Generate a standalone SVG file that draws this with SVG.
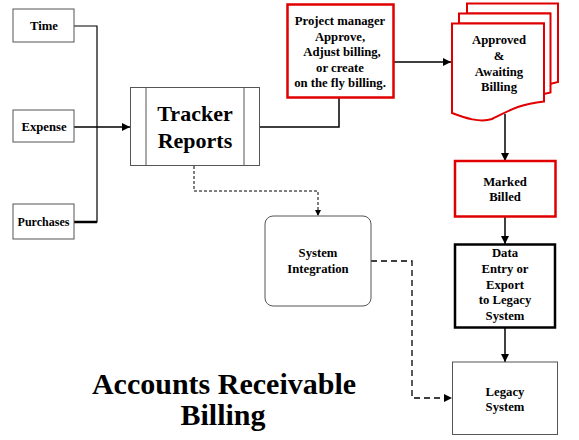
<svg xmlns="http://www.w3.org/2000/svg" width="579" height="440" viewBox="0 0 579 440">
<defs>
<style>
text{font-family:"Liberation Serif","Times New Roman",serif;font-weight:bold;fill:#000;text-anchor:middle}
.s{font-size:12.7px}
.grey{fill:#fff;stroke:#555;stroke-width:1}
.red{fill:#fff;stroke:#e00000;stroke-width:2.5}
.blk{fill:#fff;stroke:#000;stroke-width:2.5}
.ln{fill:none;stroke:#000;stroke-width:1.5}
.dash{fill:none;stroke:#000;stroke-width:1;stroke-dasharray:3,2}
.dash2{fill:none;stroke:#000;stroke-width:1.3;stroke-dasharray:6,4}
</style>
<marker id="ah" viewBox="0 0 10 10" refX="10" refY="5" markerWidth="8" markerHeight="8" markerUnits="userSpaceOnUse" orient="auto"><path d="M0,0L10,5L0,10z" fill="#000"/></marker>
<marker id="ahs" viewBox="0 0 10 10" refX="10" refY="5" markerWidth="6" markerHeight="6" markerUnits="userSpaceOnUse" orient="auto"><path d="M0,0L10,5L0,10z" fill="#000"/></marker>
</defs>
<rect width="579" height="440" fill="#fff"/>
<g id="connectors">
<path class="ln" d="M74,26H97V222H74" style="stroke-width:1.2"/>
<path class="ln" d="M74,222H97" style="stroke-width:2.5"/>
<path class="ln" d="M74,127H130" marker-end="url(#ah)"/>
<path class="ln" d="M259,127H339V98"/>
<path class="ln" d="M393,62H451" marker-end="url(#ah)"/>
<path class="ln" d="M505,114V161" marker-end="url(#ah)"/>
<path class="ln" d="M505,217V244" marker-end="url(#ah)"/>
<path class="ln" d="M505,328V362" marker-end="url(#ah)"/>
<path class="dash" d="M194,166V191H318V216" marker-end="url(#ahs)"/>
<path class="dash2" d="M371,261H412V398H452" marker-end="url(#ah)"/>
</g>
<g id="time"><rect class="grey" x="13" y="9" width="61" height="33"/><text class="s" x="44" y="30">Time</text></g>
<g id="expense"><rect class="grey" x="13" y="110" width="61" height="32"/><text class="s" x="44" y="131">Expense</text></g>
<g id="purchases"><rect class="grey" x="13" y="204" width="61" height="35"/><text class="s" x="43.5" y="226" style="font-size:12px">Purchases</text></g>
<g id="tracker"><rect class="grey" x="130.5" y="87.5" width="129" height="78"/><path d="M146,87.5V165.5M244,87.5V165.5" stroke="#555" stroke-width="1"/><text x="195" y="121" style="font-size:22px">Tracker</text><text x="195" y="148" style="font-size:22px">Reports</text></g>
<g id="pm"><rect class="red" x="287.5" y="4.5" width="106" height="93"/><text class="s" x="340" y="25">Project manager</text><text class="s" x="340" y="40.5">Approve,</text><text class="s" x="342" y="56">Adjust billing,</text><text class="s" x="340" y="71.5">or create</text><text class="s" x="340" y="87">on the fly billing.</text></g>
<g id="approved">
<path class="red" d="M467,3.5H558V82L550,84V13.5H467Z" style="stroke-width:2"/>
<path class="red" d="M459,13.5H550.5V92.5L544,94V23.5H459Z" style="stroke-width:2"/>
<path class="red" d="M452,23.5H544V101.5C520,104 510,110 492,119C480,123 465,118 452,113Z" style="stroke-width:2"/>
<text class="s" x="499" y="44">Approved</text><text class="s" x="499" y="60">&amp;</text><text class="s" x="499" y="75.5">Awaiting</text><text class="s" x="499" y="91">Billing</text>
</g>
<g id="marked"><rect class="red" x="455" y="161" width="100.5" height="55.5"/><text class="s" x="505" y="185.5">Marked</text><text class="s" x="505" y="201">Billed</text></g>
<g id="sysint"><rect class="grey" x="265" y="216" width="106" height="90" rx="8"/><text class="s" x="318" y="257">System</text><text class="s" x="318" y="273">Integration</text></g>
<g id="dataentry"><rect class="blk" x="455" y="244.5" width="100" height="83"/><text class="s" x="505" y="257">Data</text><text class="s" x="505" y="273">Entry or</text><text class="s" x="505" y="288.5">Export</text><text class="s" x="505" y="304">to Legacy</text><text class="s" x="505" y="319.5">System</text></g>
<g id="legacy"><rect class="grey" x="452.5" y="362" width="105" height="72.5"/><text class="s" x="505" y="395.5">Legacy</text><text class="s" x="505" y="411">System</text></g>
<g id="title"><text x="224" y="394" style="font-size:30px">Accounts Receivable</text><text x="223" y="425" style="font-size:30px">Billing</text></g>
</svg>
